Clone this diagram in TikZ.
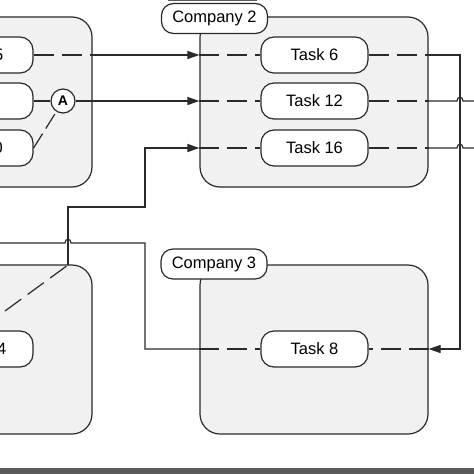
\documentclass[tikz,border=0pt]{standalone}
\usepackage{fontspec}
\setmainfont{Liberation Sans}
\usetikzlibrary{arrows.meta}
\definecolor{ln}{HTML}{2A2A2A}
\definecolor{boxfill}{HTML}{F1F1F1}
\definecolor{barcol}{HTML}{5A5A5A}
\newcommand\diafont{\fontsize{16.5}{19}\selectfont}
\begin{document}
\begin{tikzpicture}[x=1pt,y=-1pt,line width=1.2pt,
  company/.style={draw=ln,fill=boxfill,rounded corners=20pt,inner sep=0pt},
  pill/.style={draw=ln,fill=white,rounded corners=13pt,minimum width=107pt,minimum height=36pt,inner sep=0pt,font=\diafont},
  complabel/.style={draw=ln,fill=white,rounded corners=12pt,minimum width=106pt,minimum height=30pt,inner sep=0pt,font=\diafont},
  opcirc/.style={circle,draw=ln,fill=white,minimum size=24pt,inner sep=0pt,font=\fontsize{14}{16}\selectfont\bfseries},
  dsh/.style={draw=ln,dash pattern=on 20pt off 8pt},
  sol/.style={draw=ln},
  arr/.style={draw=ln,-{Triangle[length=12pt,width=8pt]}}]
\useasboundingbox (0,0) rectangle (474,474);
% bars at the image edges
\fill[barcol] (0,468) rectangle (474,474);
\fill[barcol] (168,0) rectangle (257,1.2);
% company boxes
\node[company,minimum width=132pt,minimum height=170pt] (lb1) at (26,102) {};
\node[company,minimum width=132pt,minimum height=169pt] (lb2) at (26,349.5) {};
\node[company,minimum width=228pt,minimum height=170pt] (c2) at (314,102) {};
\node[company,minimum width=228pt,minimum height=169pt] (c3) at (314,349.5) {};
% coordinates
\coordinate (t6c) at (314.5,55);
\coordinate (t12c) at (314.5,101);
\coordinate (t16c) at (314.5,148);
\coordinate (t8c) at (314.5,349);
\coordinate (bendA) at (460,55);
\coordinate (bendB) at (460,349);
\coordinate (j12a) at (457,101);
\coordinate (j12b) at (463,101);
\coordinate (e12) at (476,101);
\coordinate (j16a) at (457,148);
\coordinate (j16b) at (463,148);
\coordinate (e16) at (476,148);
\coordinate (lowstart) at (5,311);
\coordinate (lowtop) at (68,265);
\coordinate (stepA) at (145,207);
\coordinate (h0) at (-5,243);
\coordinate (hja) at (65,243);
\coordinate (hjb) at (71,243);
\coordinate (stepB) at (145,243);
% nodes
\node[pill] (l1) at (-20.5,55) {Task 5};
\node[pill] (l2) at (-20.5,101) {};
\node[pill,minimum width=117pt] (l3) at (-25.5,148) {Task 10};
\node[pill,minimum width=110pt] (l4) at (-22,349) {Task 14};
\node[opcirc] (A) at (63,101) {A};
\node[pill] (t6) at (t6c) {Task 6};
\node[pill] (t12) at (t12c) {Task 12};
\node[pill] (t16) at (t16c) {Task 16};
\node[pill] (t8) at (t8c) {Task 8};
% connectors row 1
\draw[dsh] (l1.east) -- (lb1.east |- l1.east);
\draw[arr] (lb1.east |- l1.east) -- (c2.west |- t6c);
\draw[dsh] (c2.west |- t6c) -- (t6.west);
% row 2
\draw[dsh] (l2.east) -- (A);
\draw[arr] (A) -- (c2.west |- t12c);
\draw[dsh] (c2.west |- t12c) -- (t12.west);
% row 3 to A
\draw[dsh,dash pattern=on 17pt off 6pt] (l3.east) -- (A);
% lower left to task 16
\draw[dsh] (lowstart) -- (lowtop);
\draw[arr] (lowtop) |- (stepA) |- (c2.west |- t16c);
\draw[dsh] (c2.west |- t16c) -- (t16.west);
% line at y=243 to task 8
\draw[sol] (h0) -- (hja) .. controls (65,238) and (71,238) .. (hjb) -- (stepB) |- (c3.west |- t8c);
\draw[dsh] (c3.west |- t8c) -- (t8.west);
% task 6 to task 8
\draw[dsh] (t6.east) -- (c2.east |- t6c);
\draw[arr] (c2.east |- t6c) -- (bendA) -- (bendB) -- (c3.east |- t8c);
\draw[dsh] (c3.east |- t8c) -- (t8.east);
% task 12 and 16 outgoing
\draw[dsh] (t12.east) -- (c2.east |- t12c);
\draw[sol] (c2.east |- t12c) -- (j12a) .. controls (457,96) and (463,96) .. (j12b) -- (e12);
\draw[dsh] (t16.east) -- (c2.east |- t16c);
\draw[sol] (c2.east |- t16c) -- (j16a) .. controls (457,143) and (463,143) .. (j16b) -- (e16);
% company labels
\node[complabel] (lab2) at (214.5,18.5) {Company 2};
\node[complabel] (lab3) at (214,264) {Company 3};
\end{tikzpicture}
\end{document}
